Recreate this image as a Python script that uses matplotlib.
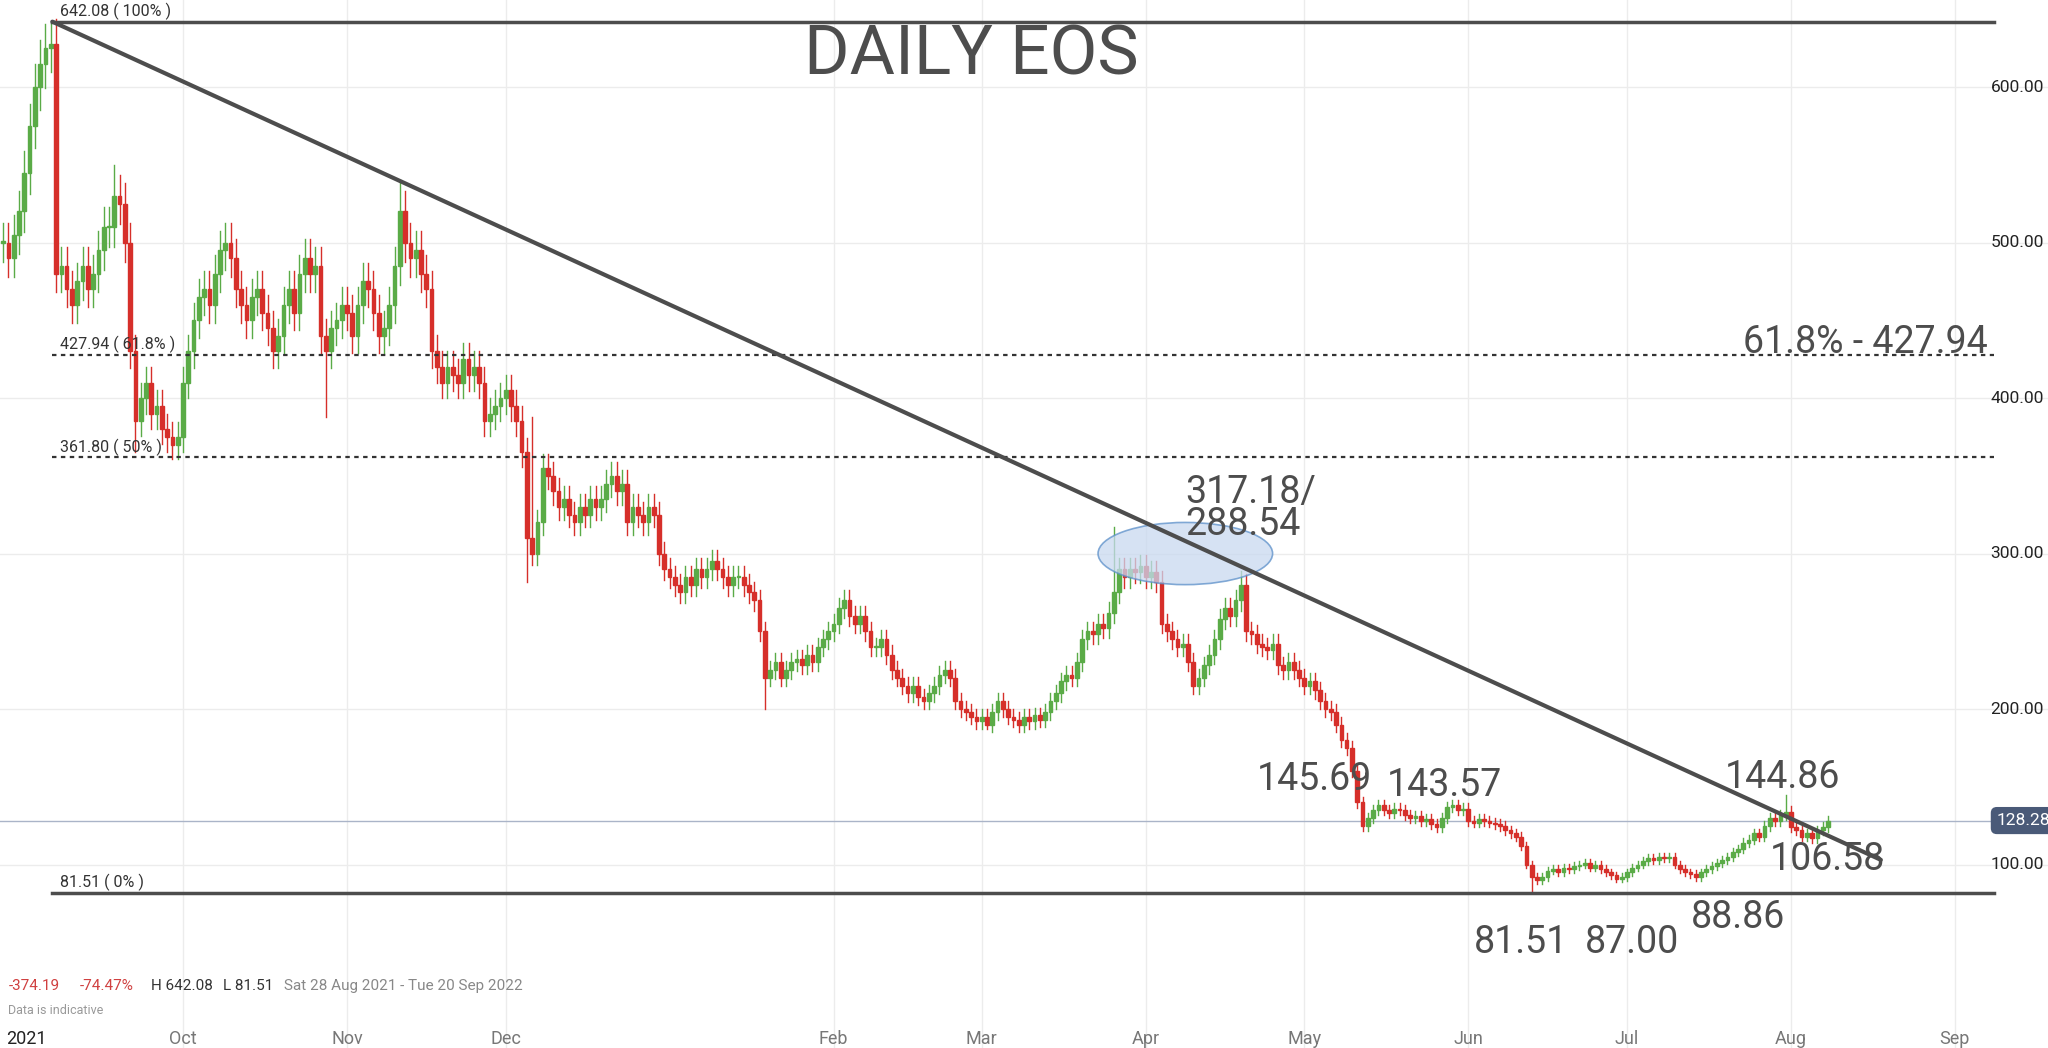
import numpy as np
import matplotlib
matplotlib.use("Agg")
import matplotlib.pyplot as plt
from matplotlib.patches import Ellipse, Rectangle

plt.rcParams['font.family'] = ['Roboto', 'DejaVu Sans']

# daily closes, day 0 = Sat 28 Aug 2021
closes = [500, 490, 505, 520, 545, 575, 600, 615, 625, 628,
          480, 485, 470, 460, 475, 485, 470, 480, 495, 510,
          510, 530, 525, 500, 430, 385, 400, 410, 390, 395,
          380, 375, 370, 375, 410, 430, 450, 465, 470, 460,
          480, 495, 500, 490, 470, 460, 450, 465, 470, 455,
          445, 430, 440, 460, 470, 455, 480, 490, 480, 485,
          440, 430, 445, 450, 460, 455, 440, 460, 475, 470,
          455, 440, 445, 460, 485, 520, 500, 490, 495, 480,
          470, 430, 420, 410, 420, 415, 410, 425, 415, 420,
          410, 385, 390, 395, 400, 405, 395, 385, 365, 310,
          300, 320, 355, 350, 340, 330, 335, 325, 320, 330,
          325, 335, 330, 335, 345, 350, 340, 345, 320, 330,
          325, 320, 330, 325, 300, 290, 285, 280, 275, 285,
          280, 290, 285, 290, 295, 290, 285, 280, 285, 285,
          280, 275, 270, 250, 220, 225, 230, 220, 225, 230,
          232, 228, 235, 230, 240, 245, 250, 255, 265, 270,
          260, 255, 260, 250, 240, 240, 245, 235, 225, 220,
          215, 210, 215, 208, 205, 210, 215, 222, 225, 220,
          205, 200, 198, 195, 192, 195, 190, 198, 205, 200,
          195, 193, 190, 195, 192, 196, 193, 198, 205, 210,
          218, 222, 220, 230, 245, 250, 248, 255, 252, 262,
          275, 290, 285, 290, 288, 292, 285, 288, 282, 255,
          250, 245, 240, 242, 230, 215, 220, 228, 235, 245,
          258, 265, 260, 270, 280, 250, 248, 242, 240, 238,
          242, 228, 225, 230, 225, 220, 215, 218, 212, 205,
          200, 198, 190, 180, 175, 160, 140, 125, 130, 135,
          138, 135, 133, 136, 135, 132, 130, 131, 128, 129,
          126, 124, 130, 137, 138, 135, 136, 128, 127, 129,
          128, 127, 126, 125, 122, 120, 118, 112, 100, 92,
          90, 92, 96, 97, 95, 98, 97, 99, 100, 101,
          98, 100, 97, 95, 93, 91, 92, 95, 98, 100,
          102, 104, 103, 105, 104, 105, 100, 97, 95, 94,
          92, 95, 97, 99, 101, 103, 105, 108, 110, 114,
          116, 120, 118, 125, 130, 128, 132, 134, 124, 122,
          118, 120, 117, 122, 124, 128]
# notable wick extremes (day: price)
wick_highs = {9: 642.08, 21: 550, 75: 540, 100: 388, 210: 317.18, 234: 288.54, 337: 144.86}
wick_lows = {25: 365, 61: 388, 99: 282, 144: 200, 186: 187, 289: 81.51}

month_days = [-0.5, 34, 65, 95, 157, 185, 216, 246, 277, 307, 338, 369]
month_labels = ["2021", "Oct", "Nov", "Dec", "Feb", "Mar", "Apr", "May", "Jun", "Jul", "Aug", "Sep"]
y_ticks = [100, 200, 300, 400, 500, 600]
fib_levels = [642.08, 427.94, 361.80, 81.51]
fib_labels = ["642.08 ( 100% )", "427.94 ( 61.8% )", "361.80 ( 50% )", "81.51 ( 0% )"]
last_price = 128.28

GREEN = "#5aab47"
RED = "#d62f2a"
DARK = "#4d4d4d"

fig = plt.figure(figsize=(20.48, 10.48), dpi=100)
ax = fig.add_axes([0, 0, 1, 1])
ax.set_xlim(-0.6, 386.6)
ax.set_ylim(-18, 656)
ax.axis("off")

for v in y_ticks:
    ax.axhline(v, color="#ececec", lw=1, zorder=0)
    ax.text(385.8, v, f"{v:.2f}", ha="right", va="center", fontsize=12.5, color="#222222")
for d, lab in zip(month_days, month_labels):
    if d > 0:
        ax.axvline(d, color="#ececec", lw=1, zorder=0)
    ax.text(max(d, 0.5), -12, lab, ha="left" if d < 0 else "center", va="center",
            fontsize=13, color="#222222" if lab == "2021" else "#777777")

# candles
prev = closes[0]
for i, c in enumerate(closes):
    o = prev
    hi = wick_highs.get(i, max(o, c) * 1.025)
    lo = wick_lows.get(i, min(o, c) * 0.975)
    col = GREEN if c >= o else RED
    ax.plot([i, i], [lo, hi], color=col, lw=1, zorder=3)
    ax.add_patch(Rectangle((i - 0.35, min(o, c)), 0.7, max(abs(c - o), 0.8),
                           color=col, zorder=3))
    prev = c

# fib lines
x0, x1 = 9.3, 376.4
ax.plot([x0, x1], [fib_levels[0]] * 2, color=DARK, lw=2.5, zorder=4)
ax.plot([x0, x1], [fib_levels[3]] * 2, color=DARK, lw=2.5, zorder=4)
for lv in fib_levels[1:3]:
    ax.plot([x0, x1], [lv, lv], color="#333333", lw=1.6, ls=(0, (2, 2)), zorder=4)
for lv, lab in zip(fib_levels, fib_labels):
    ax.text(x0 + 1.5, lv + 1.2, lab, fontsize=11.5, color="#333333", va="bottom", zorder=5)

# trendline
ax.plot([9.3, 355], [642.08, 103], color=DARK, lw=3, zorder=6, solid_capstyle="round")

# last price
ax.axhline(last_price, color="#aab4c8", lw=1, zorder=2)
ax.text(382.0, last_price, f"{last_price:.2f}", ha="center", va="center", fontsize=12.5,
        color="white", bbox=dict(boxstyle="round,pad=0.35", fc="#4a5a78", ec="none"), zorder=7)

ax.add_patch(Ellipse((223.5, 300), 33, 40, fc="#c9d9f0", ec="#5b8fc9", lw=1.2, alpha=0.75, zorder=5))

ax.text(183, 620, "DAILY EOS", fontsize=50, color=DARK, ha="center", va="center")
ax.text(352, 436, "61.8% - 427.94", fontsize=27, color=DARK, ha="center", va="center")
ann = [(223.5, 329, "317.18/\n288.54"), (237, 155, "145.69"),
       (261.5, 151, "143.57"), (278, 50, "81.51"),
       (299, 50, "87.00"), (319, 66, "88.86"),
       (325.5, 156, "144.86"), (334, 103, "106.58")]
for x, y, t in ann:
    ax.text(x, y, t, fontsize=27, color=DARK, ha="left", va="center", linespacing=0.85, zorder=8)

ax.text(1, 22, "-374.19", fontsize=11, color="#d04040", va="center")
ax.text(14.5, 22, "-74.47%", fontsize=11, color="#d04040", va="center")
ax.text(28, 22, "H 642.08", fontsize=11, color="#333333", va="center")
ax.text(41.5, 22, "L 81.51", fontsize=11, color="#333333", va="center")
ax.text(53, 22, "Sat 28 Aug 2021 - Tue 20 Sep 2022", fontsize=11, color="#888888", va="center")
ax.text(1, 6, "Data is indicative", fontsize=9, color="#999999", va="center")

fig.savefig("out.png", dpi=100)
